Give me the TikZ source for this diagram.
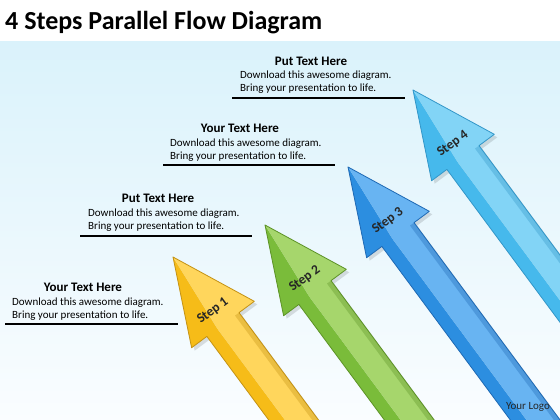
\documentclass[tikz,border=0pt]{standalone}
\usepackage{fontspec}
\setmainfont{Carlito}
\definecolor{yelD}{RGB}{246,188,24}
\definecolor{yelL}{RGB}{255,214,92}
\definecolor{yelE}{RGB}{196,146,20}
\definecolor{grnD}{RGB}{122,188,58}
\definecolor{grnL}{RGB}{166,214,108}
\definecolor{grnE}{RGB}{92,146,38}
\definecolor{bluD}{RGB}{44,142,224}
\definecolor{bluL}{RGB}{104,180,242}
\definecolor{bluE}{RGB}{30,105,180}
\definecolor{cynD}{RGB}{70,185,236}
\definecolor{cynL}{RGB}{130,212,246}
\definecolor{cynE}{RGB}{50,150,200}
\definecolor{bgTop}{RGB}{218,242,251}
\definecolor{bgBot}{RGB}{250,253,255}
\tikzset{
  heading/.style={font=\fontsize{13}{15}\selectfont\bfseries, inner sep=0pt},
  bodyline/.style={anchor=west, font=\fontsize{11}{13}\selectfont, inner sep=0pt},
  rule/.style={line width=1.4pt, black},
  steplbl/.style={font=\fontsize{13.5}{15}\selectfont\bfseries, inner sep=0pt, text=black!85},
}
% #1 tip x, #2 tip y, #3 dark, #4 light, #5 edge, #6 label, #7 node name
\newcommand{\stepArrow}[7]{%
  \begin{scope}[shift={(#1+3,#2+3)},rotate=-53.5]
    \fill[black,opacity=0.12] (0,0) -- (84,39) -- (84,20) -- (700,20) -- (700,-20) -- (84,-20) -- (84,-39) -- cycle;
  \end{scope}
  \begin{scope}[shift={(#1,#2)},rotate=-53.5]
    \fill[#3] (0,0) -- (84,39) -- (84,20) -- (700,20) -- (700,7) -- (84,7) -- cycle;
    \fill[#4] (0,0) -- (84,7) -- (700,7) -- (700,-20) -- (84,-20) -- (84,-39) -- cycle;
    \fill[#5,opacity=0.35] (84,-20) -- (700,-20) -- (700,-15) -- (84,-15) -- cycle;
    \draw[#5,line width=0.8pt,line join=round] (0,0) -- (84,39) -- (84,20) -- (700,20) -- (700,-20) -- (84,-20) -- (84,-39) -- cycle;
    \node[steplbl,rotate=36.5] (#7) at (67,0) {#6};
  \end{scope}}
\begin{document}
\begin{tikzpicture}[x=1pt,y=-1pt]
\useasboundingbox (0,0) rectangle (560,420);
\fill[white] (0,0) rectangle (560,420);
\shade[top color=bgTop, bottom color=bgBot] (0,42) rectangle (560,420);
\clip (0,0) rectangle (560,420);

\node[anchor=base west, font=\fontsize{26}{30}\selectfont\bfseries, inner sep=0pt] (title) at (5,30) {4 Steps Parallel Flow Diagram};

% arrows (back to front)
\stepArrow{413}{90}{cynD}{cynL}{cynE}{Step 4}{s4}
\stepArrow{348}{167}{bluD}{bluL}{bluE}{Step 3}{s3}
\stepArrow{265}{225}{grnD}{grnL}{grnE}{Step 2}{s2}
\stepArrow{173}{257}{yelD}{yelL}{yelE}{Step 1}{s1}

% text block 1
\node[heading] (h1) at (83,287) {Your Text Here};
\node[bodyline] (a1) at (12,303) {Download this awesome diagram.};
\node[bodyline] (b1) at (12,316) {Bring your presentation to life.};
\coordinate (u1a) at (5,324); \coordinate (u1b) at (178,324);
\draw[rule] (u1a) -- (u1b);

% text block 2
\node[heading] (h2) at (158,198) {Put Text Here};
\node[bodyline] (a2) at (88,214) {Download this awesome diagram.};
\node[bodyline] (b2) at (88,227) {Bring your presentation to life.};
\coordinate (u2a) at (80,236); \coordinate (u2b) at (252,236);
\draw[rule] (u2a) -- (u2b);

% text block 3
\node[heading] (h3) at (240,128) {Your Text Here};
\node[bodyline] (a3) at (170,144) {Download this awesome diagram.};
\node[bodyline] (b3) at (170,157) {Bring your presentation to life.};
\coordinate (u3a) at (163,165); \coordinate (u3b) at (335,165);
\draw[rule] (u3a) -- (u3b);

% text block 4
\node[heading] (h4) at (311,61) {Put Text Here};
\node[bodyline] (a4) at (240,76) {Download this awesome diagram.};
\node[bodyline] (b4) at (240,89) {Bring your presentation to life.};
\coordinate (u4a) at (232,98); \coordinate (u4b) at (405,98);
\draw[rule] (u4a) -- (u4b);

\node[font=\fontsize{11}{13}\selectfont, inner sep=0pt, text=black!85] (logo) at (528,407) {Your Logo};
\end{tikzpicture}
\end{document}
